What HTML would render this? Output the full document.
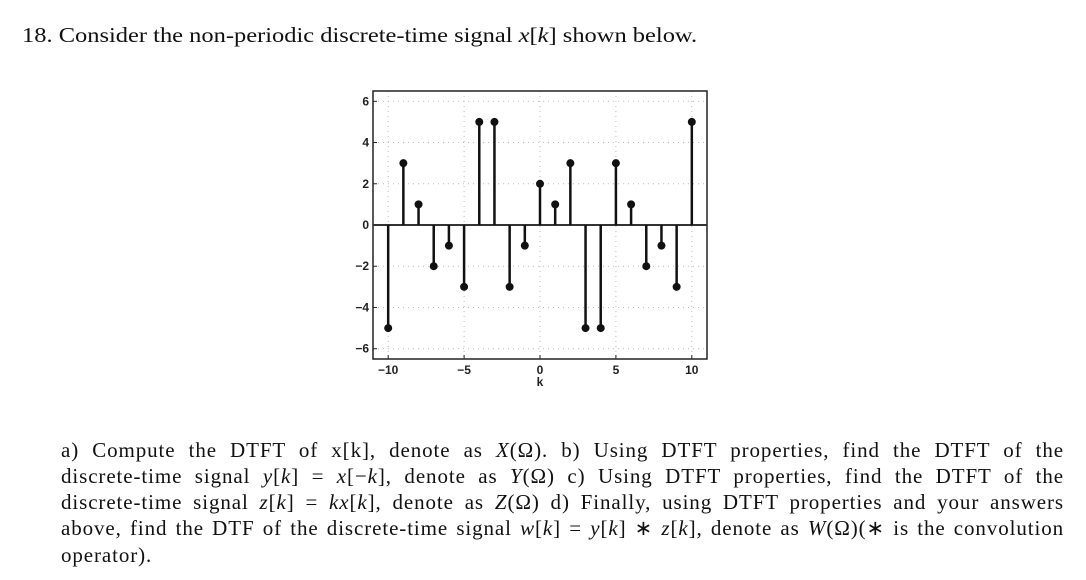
<!DOCTYPE html>
<html><head><meta charset="utf-8"><style>
body{margin:0;width:1086px;height:580px;background:#fff;position:relative;overflow:hidden;font-family:"Liberation Serif",serif;color:#111}
.t{position:absolute;font-size:21px;white-space:nowrap;transform-origin:0 0;transform:scaleX(1.165)}
.ln{position:absolute;left:61px;width:1003px;font-size:21px;letter-spacing:0.9px;text-align:justify;text-align-last:justify;white-space:nowrap;height:24px;overflow:visible}
.ln.last{text-align-last:left}
svg text{font-family:"Liberation Sans",sans-serif;font-weight:bold;font-size:12px;fill:#222}
</style></head><body>
<div class="t" style="left:22px;top:23px">18. Consider the non-periodic discrete-time signal <i>x</i>[<i>k</i>] shown below.</div>
<svg width="1086" height="420" style="position:absolute;left:0;top:0" id="chart"></svg>
<div class="ln" style="top:438px">a) Compute the DTFT of x[k], denote as <i>X</i>(Ω). b) Using DTFT properties, find the DTFT of the</div>
<div class="ln" style="top:464px">discrete-time signal <i>y</i>[<i>k</i>] = <i>x</i>[−<i>k</i>], denote as <i>Y</i>(Ω) c) Using DTFT properties, find the DTFT of the</div>
<div class="ln" style="top:490px">discrete-time signal <i>z</i>[<i>k</i>] = <i>kx</i>[<i>k</i>], denote as <i>Z</i>(Ω) d) Finally, using DTFT properties and your answers</div>
<div class="ln" style="top:516px">above, find the DTF of the discrete-time signal <i>w</i>[<i>k</i>] = <i>y</i>[<i>k</i>] ∗ <i>z</i>[<i>k</i>], denote as <i>W</i>(Ω)(∗ is the convolution</div>
<div class="ln last" style="top:543px">operator).</div>
<script>
const kValues=[-10,-9,-8,-7,-6,-5,-4,-3,-2,-1,0,1,2,3,4,5,6,7,8,9,10];
const xValues=[-5,3,1,-2,-1,-3,5,5,-3,-1,2,1,3,-5,-5,3,1,-2,-1,-3,5];
const xTicks=[-10,-5,0,5,10];
const yTicks=[-6,-4,-2,0,2,4,6];
const L=373,R=707,T=91,B=359;
const sx=v=>L+(v+11)/22*(R-L);
const sy=v=>B-(v+6.5)/13*(B-T);
const svg=document.getElementById('chart');
const NS='http://www.w3.org/2000/svg';
function mk(t,a){const e=document.createElementNS(NS,t);for(const k in a)e.setAttribute(k,a[k]);svg.appendChild(e);return e;}
yTicks.forEach(v=>{const g=mk('line',{x1:L,x2:R,y1:sy(v),y2:sy(v),stroke:'#bbb','stroke-dasharray':'1 4'});


const t=mk('text',{x:L-4,y:sy(v)+4,'text-anchor':'end'});t.textContent=v<0?'−'+(-v):v;


mk('line',{x1:L,x2:L+4,y1:sy(v),y2:sy(v),stroke:'#222'});});
xTicks.forEach(v=>{const g=mk('line',{x1:sx(v),x2:sx(v),y1:T,y2:B,stroke:'#bbb','stroke-dasharray':'1 4'});


const t=mk('text',{x:sx(v),y:B+15,'text-anchor':'middle'});t.textContent=v<0?'−'+(-v):v;


mk('line',{x1:sx(v),x2:sx(v),y1:B,y2:B-4,stroke:'#222'});});
const xl=mk('text',{x:sx(0),y:B+27,'text-anchor':'middle'});xl.textContent='k';


const fr=mk('rect',{x:L,y:T,width:R-L,height:B-T,fill:'none',stroke:'#222','stroke-width':1.5});


const bl=mk('line',{x1:L,x2:R,y1:sy(0),y2:sy(0),stroke:'#333','stroke-width':2});


kValues.forEach((k,i)=>{const s=mk('line',{x1:sx(k),x2:sx(k),y1:sy(0),y2:sy(xValues[i]),stroke:'#111','stroke-width':2.5});


const c=mk('circle',{cx:sx(k),cy:sy(xValues[i]),r:4,fill:'#111'});

});
</script>
</body></html>
